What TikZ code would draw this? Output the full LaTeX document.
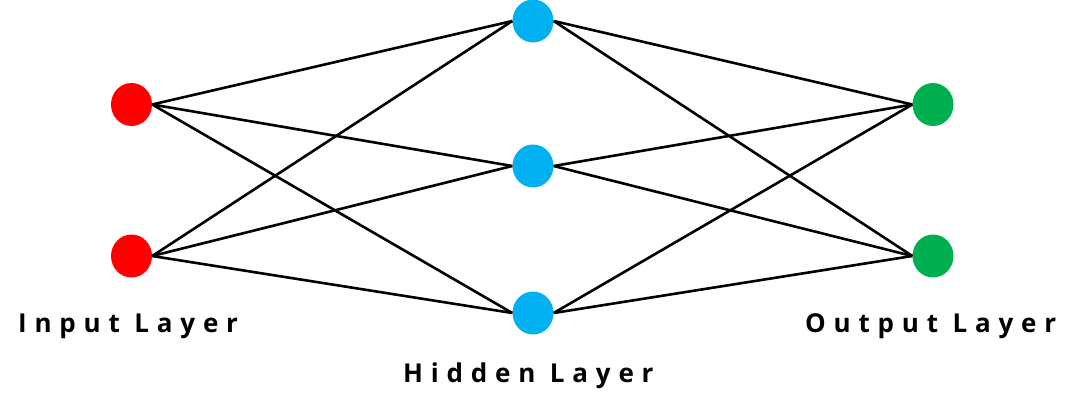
\documentclass[tikz,border=0pt]{standalone}
\usepackage{fontspec}
\usetikzlibrary{shapes.geometric}
\setmainfont{Open Sans}
\newfontfamily\labfont[LetterSpace=30]{Open Sans Bold}
\begin{document}
\begin{tikzpicture}[x=1pt,y=-1pt]
\tikzset{
  neuron/.style={ellipse,minimum width=41pt,minimum height=43pt,inner sep=0pt,draw=none},
  inp/.style={neuron,fill=red},
  hid/.style={neuron,fill={rgb,255:red,0;green,176;blue,240}},
  outp/.style={neuron,fill={rgb,255:red,0;green,176;blue,80}},
  edge/.style={draw=black,line width=2.6pt},
  lab/.style={font=\labfont\fontsize{26}{31}\selectfont,inner sep=0pt,anchor=base west}
}
\useasboundingbox (0,0) rectangle (1077,408);
\node[inp] (i1) at (131.5,104.5) {};
\node[inp] (i2) at (131.5,256) {};
\node[hid] (h1) at (533,21) {};
\node[hid] (h2) at (533,166) {};
\node[hid] (h3) at (533,313) {};
\node[outp] (o1) at (933,104.5) {};
\node[outp] (o2) at (933,256) {};
\foreach \a in {i1,i2}{\foreach \b in {h1,h2,h3}{\draw[edge] (\a.east) -- (\b.west);}}
\foreach \a in {h1,h2,h3}{\foreach \b in {o1,o2}{\draw[edge] (\a.east) -- (\b.west);}}
\node[lab] (li) at (18,332) {Input Layer};
\node[lab] (lh) at (403,382) {Hidden Layer};
\node[lab] (lo) at (805,332) {Output Layer};
\end{tikzpicture}
\end{document}
